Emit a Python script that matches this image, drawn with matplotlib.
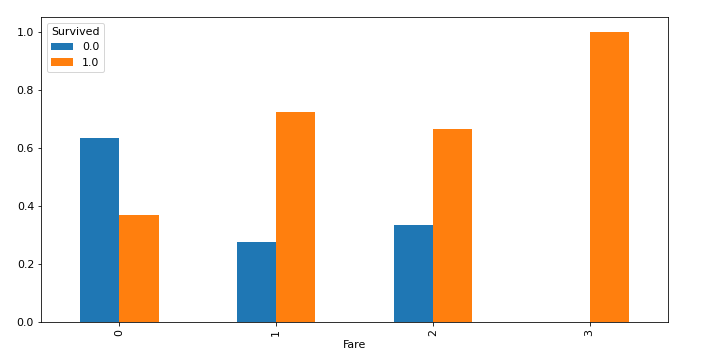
import pandas as pd
import matplotlib
matplotlib.use("Agg")
from matplotlib import pyplot as plt

fare = [0, 1, 2, 3]
died = [0.632, 0.276, 0.334, 0.0]
survived = [0.368, 0.724, 0.666, 1.0]

plt.rcParams["font.size"] = 11

df = pd.DataFrame({0.0: died, 1.0: survived}, index=pd.Index(fare, name="Fare"))
df.columns.name = "Survived"

fig = plt.figure(figsize=(701 / 72, 362 / 72), dpi=72)
ax = fig.add_axes([41 / 701, 40 / 362, 627 / 701, 305 / 362])
df.plot(kind="bar", ax=ax)
ax.set_ylim(0, 1.05)
ax.set_xlabel("Fare")

fig.savefig("out.png", dpi=72)
